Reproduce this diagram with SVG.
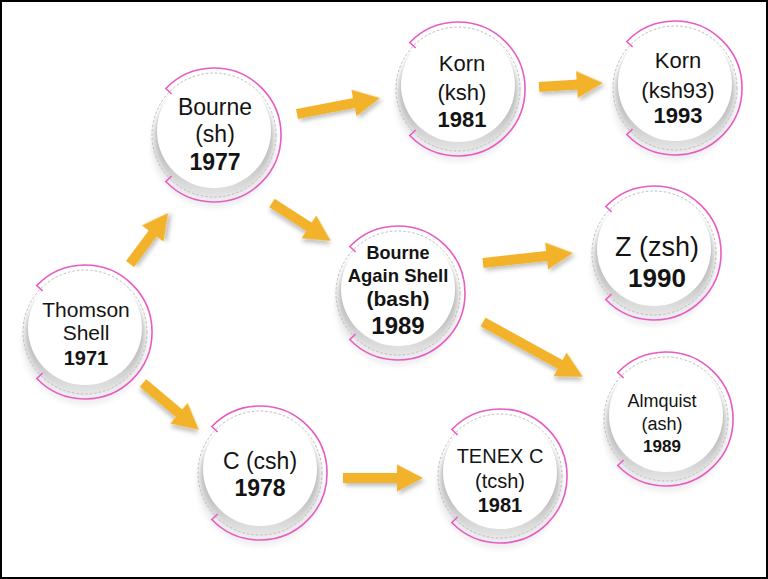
<svg xmlns="http://www.w3.org/2000/svg" xmlns:xlink="http://www.w3.org/1999/xlink" width="768" height="579" viewBox="0 0 768 579">
<defs>
<style>
.t{font-family:"Liberation Sans",Arial,sans-serif;fill:#141414;text-anchor:middle}
.b{font-weight:bold}
.arrow{fill:#F2B22A;filter:url(#ash)}
.pink{fill:none;stroke:#E95BC4;stroke-width:1.6}
.dash{fill:none;stroke:#bdbdbd;stroke-width:1;stroke-dasharray:2.5 2}
</style>
<filter id="ash" x="-20%" y="-30%" width="150%" height="180%">
<feDropShadow dx="2" dy="3" stdDeviation="2" flood-color="#000" flood-opacity="0.25"/>
</filter>
<filter id="blur" x="-20%" y="-20%" width="140%" height="140%">
<feGaussianBlur stdDeviation="2.5"/>
</filter>
<linearGradient id="shade" x1="0" y1="0" x2="0" y2="1">
<stop offset="0" stop-color="#9e9e9e"/>
<stop offset="0.7" stop-color="#c4c4c4"/>
<stop offset="1" stop-color="#e6e6e6"/>
</linearGradient>
<g id="node">
<circle cx="0" cy="10" r="63" fill="#efefef" filter="url(#blur)"/>
<circle cx="0" cy="4" r="59" fill="url(#shade)" filter="url(#blur)"/>
<circle cx="0" cy="-4" r="57" fill="#fff"/>
<circle cx="0" cy="0" r="62" class="dash"/>
<path class="pink" d="M-42.4,-41 L-48.2,-46.5 A67,67 0 1 1 -48.2,46.5 L-42.4,41"/>
</g>
</defs>
<rect x="0" y="0" width="768" height="579" fill="#fff"/>
<rect x="1" y="1" width="766" height="577" fill="none" stroke="#000" stroke-width="2"/>

<g id="connectors">
<path class="arrow" transform="translate(130,264) rotate(-53.3)" d="M0,-5 L38,-5 L38,-13.5 L63.6,0 L38,13.5 L38,5 L0,5 Z"/>
<path class="arrow" transform="translate(143,383) rotate(40)" d="M0,-5 L47,-5 L47,-13.5 L73,0 L47,13.5 L47,5 L0,5 Z"/>
<path class="arrow" transform="translate(297,114) rotate(-10.9)" d="M0,-5 L58,-5 L58,-13.5 L84.5,0 L58,13.5 L58,5 L0,5 Z"/>
<path class="arrow" transform="translate(539,87) rotate(-3.6)" d="M0,-5 L38,-5 L38,-13.5 L64,0 L38,13.5 L38,5 L0,5 Z"/>
<path class="arrow" transform="translate(272,203) rotate(32.8)" d="M0,-5 L44,-5 L44,-13.5 L70,0 L44,13.5 L44,5 L0,5 Z"/>
<path class="arrow" transform="translate(483,263) rotate(-6.3)" d="M0,-5 L64,-5 L64,-13.5 L90.6,0 L64,13.5 L64,5 L0,5 Z"/>
<path class="arrow" transform="translate(483,322) rotate(28.8)" d="M0,-5 L88,-5 L88,-13.5 L114,0 L88,13.5 L88,5 L0,5 Z"/>
<path class="arrow" transform="translate(343,478)" d="M0,-5 L54,-5 L54,-13.5 L80,0 L54,13.5 L54,5 L0,5 Z"/>
</g>

<g id="thomson">
<use xlink:href="#node" href="#node" x="85" y="332"/>
<text class="t" x="86" y="317" font-size="21">Thomson</text>
<text class="t" x="86" y="340" font-size="21">Shell</text>
<text class="t b" x="86" y="365" font-size="20">1971</text>
</g>
<g id="bourne">
<use xlink:href="#node" href="#node" x="214" y="135"/>
<text class="t" x="215" y="115" font-size="23">Bourne</text>
<text class="t" x="215" y="142" font-size="23">(sh)</text>
<text class="t b" x="215" y="170" font-size="23">1977</text>
</g>
<g id="korn">
<use xlink:href="#node" href="#node" x="458" y="89"/>
<text class="t" x="462" y="71" font-size="22">Korn</text>
<text class="t" x="462" y="100" font-size="22">(ksh)</text>
<text class="t b" x="462" y="127" font-size="22">1981</text>
</g>
<g id="korn93">
<use xlink:href="#node" href="#node" x="675" y="88"/>
<text class="t" x="678" y="68" font-size="22">Korn</text>
<text class="t" x="678" y="98" font-size="22">(ksh93)</text>
<text class="t b" x="678" y="123" font-size="22">1993</text>
</g>
<g id="bash">
<use xlink:href="#node" href="#node" x="398" y="293"/>
<text class="t b" x="398" y="259" font-size="18">Bourne</text>
<text class="t b" x="398" y="282" font-size="18.5">Again Shell</text>
<text class="t b" x="398" y="306" font-size="21">(bash)</text>
<text class="t b" x="398" y="334" font-size="24">1989</text>
</g>
<g id="zsh">
<use xlink:href="#node" href="#node" x="654" y="253"/>
<text class="t" x="657" y="256" font-size="27">Z (zsh)</text>
<text class="t b" x="657" y="287" font-size="26">1990</text>
</g>
<g id="almquist">
<use xlink:href="#node" href="#node" x="666" y="419"/>
<text class="t" x="662" y="407" font-size="18">Almquist</text>
<text class="t" x="662" y="430" font-size="18">(ash)</text>
<text class="t b" x="662" y="452" font-size="17">1989</text>
</g>
<g id="csh">
<use xlink:href="#node" href="#node" x="260" y="473"/>
<text class="t" x="260" y="469" font-size="23">C (csh)</text>
<text class="t b" x="260" y="496" font-size="23">1978</text>
</g>
<g id="tcsh">
<use xlink:href="#node" href="#node" x="500" y="476"/>
<text class="t" x="500" y="463" font-size="20">TENEX C</text>
<text class="t" x="500" y="488" font-size="20">(tcsh)</text>
<text class="t b" x="500" y="512" font-size="20">1981</text>
</g>
</svg>
